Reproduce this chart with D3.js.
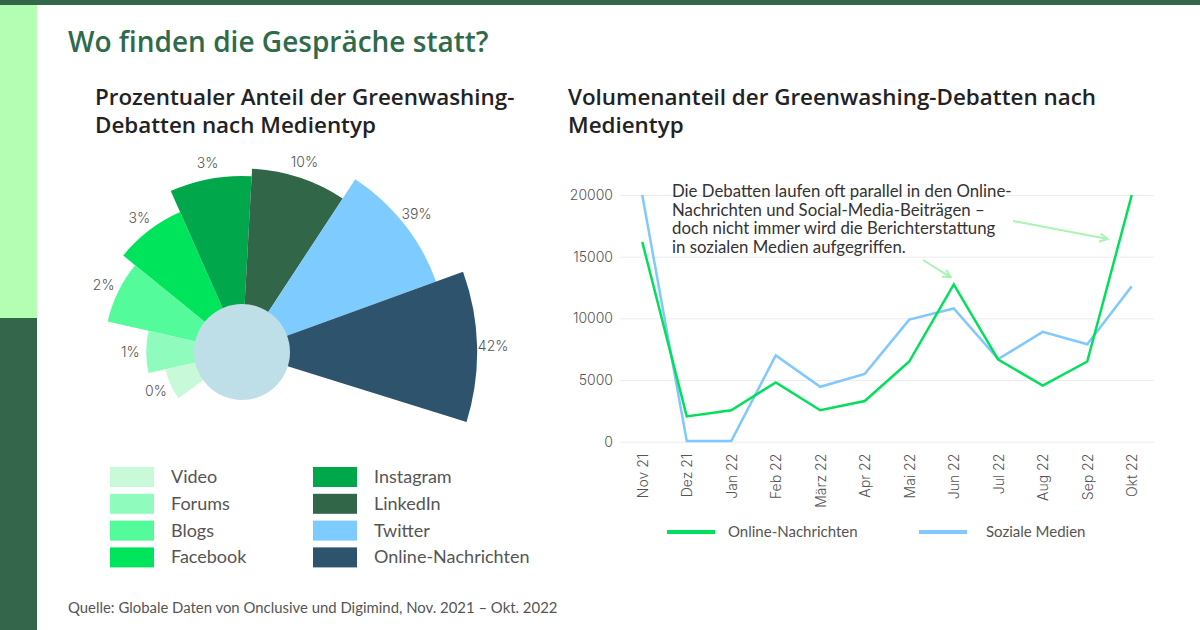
<!DOCTYPE html>
<html lang="de">
<head>
<meta charset="utf-8">
<title>Wo finden die Gespräche statt?</title>
<script src="https://cdn.jsdelivr.net/npm/d3@7"></script>
<style>
    body { margin: 0; background: #fff; }
    svg { display: block; font-family: "Open Sans", "Noto Sans", sans-serif; }
    .title { font-size: 28px; font-weight: 600; fill: #2f6a4a; }
    .subtitle { font-size: 22.4px; font-weight: 600; fill: #222; }
    .petal-label { font-family: Inter, "Noto Sans", sans-serif; font-weight: 300; font-size: 14px; fill: #555; }
    .legend-label { font-family: Lato, sans-serif; font-size: 18px; fill: #555; }
    .axis text { font-family: Inter, sans-serif; font-weight: 300; font-size: 14px; fill: #555; }
    .axis .tick line { stroke: #ececec; }
    .axis .domain { display: none; }
    .note { font-family: Lato, sans-serif; font-size: 16.8px; fill: #333; }
    .source { font-family: Lato, sans-serif; font-size: 14.9px; fill: #555; }
</style>
</head>
<body>
<div id="chart"></div>
<script>
// pie (rose) data: share in percent, radial reach index 0-100
const mediaTypes = ["Video", "Forums", "Blogs", "Facebook", "Instagram", "LinkedIn", "Twitter", "Online-Nachrichten"];
const mediaShare = [0, 1, 2, 3, 3, 10, 39, 42];
const mediaReach = [16, 25, 47, 55, 67, 71, 83, 98];
const mediaColors = ["#c8f9d9", "#8ffbbd", "#53fb9b", "#00e45b", "#00a84b", "#316648", "#7ecbff", "#2e536c"];

// line chart data
const months = ["Nov 21", "Dez 21", "Jan 22", "Feb 22", "März 22", "Apr 22", "Mai 22", "Jun 22", "Jul 22", "Aug 22", "Sep 22", "Okt 22"];
const onlineNews = [16200, 2050, 2550, 4800, 2550, 3300, 6500, 12750, 6650, 4550, 6500, 20000];
const socialMedia = [20000, 50, 50, 7000, 4450, 5500, 9900, 10800, 6700, 8900, 7900, 12600];
const volumeTicks = [0, 5000, 10000, 15000, 20000];
const seriesNames = ["Online-Nachrichten", "Soziale Medien"];
const seriesColors = ["#00e05a", "#80c8ff"];

const noteLines = [
    "Die Debatten laufen oft parallel in den Online-",
    "Nachrichten und Social-Media-Beiträgen –",
    "doch nicht immer wird die Berichterstattung",
    "in sozialen Medien aufgegriffen."
];

const width = 1200, height = 630;
const deg = Math.PI / 180;

let svg = d3.select("#chart").append("svg")
    .attr("width", width)
    .attr("height", height);

//---FRAME-------------------------------------------------------------------
svg.append("rect").attr("x", 0).attr("y", 0).attr("width", width).attr("height", 5).attr("fill", "#33664a");
svg.append("rect").attr("x", 0).attr("y", 5).attr("width", 37).attr("height", 313).attr("fill", "#b3feb2");
svg.append("rect").attr("x", 0).attr("y", 318).attr("width", 37).attr("height", 312).attr("fill", "#33664a");

svg.append("text").attr("class", "title").attr("x", 68).attr("y", 52).text("Wo finden die Gespräche statt?");

let subLeft = svg.append("text").attr("class", "subtitle").attr("x", 95).attr("y", 105);
subLeft.append("tspan").attr("x", 95).text("Prozentualer Anteil der Greenwashing-");
subLeft.append("tspan").attr("x", 95).attr("dy", 28).text("Debatten nach Medientyp");

let subRight = svg.append("text").attr("class", "subtitle").attr("x", 568).attr("y", 105);
subRight.append("tspan").attr("x", 568).text("Volumenanteil der Greenwashing-Debatten nach");
subRight.append("tspan").attr("x", 568).attr("dy", 28).text("Medientyp");

svg.append("text").attr("class", "source").attr("x", 68).attr("y", 613)
    .text("Quelle: Globale Daten von Onclusive und Digimind, Nov. 2021 – Okt. 2022");

//---ROSE CHART--------------------------------------------------------------
let roseData = mediaTypes.map((m, i) => ({name: m, share: mediaShare[i], reach: mediaReach[i], color: mediaColors[i]}));

let radius = d3.scaleLinear().domain([0, 100]).range([48, 239]);
let angleWeight = d3.scaleSqrt().domain([0, 42]).range([25, 40]);

let pie = d3.pie()
    .sort(null)
    .value(d => angleWeight(d.share))
    .startAngle(-126 * deg)
    .endAngle(107.3 * deg);

let arc = d3.arc()
    .innerRadius(0)
    .outerRadius(d => radius(d.data.reach));

let rose = svg.append("g").attr("transform", "translate(242,352)");

rose.selectAll(".petal")
    .data(pie(roseData))
    .enter().append("path")
    .attr("class", "petal")
    .attr("d", arc)
    .attr("fill", d => d.data.color);

rose.append("circle").attr("r", 48).attr("fill", "#bedfe8");

rose.selectAll(".petal-label")
    .data(pie(roseData))
    .enter().append("text")
    .attr("class", "petal-label")
    .attr("text-anchor", "middle")
    .attr("dy", "0.35em")
    .attr("x", d => Math.sin((d.startAngle + d.endAngle) / 2) * (radius(d.data.reach) + 16))
    .attr("y", d => -Math.cos((d.startAngle + d.endAngle) / 2) * (radius(d.data.reach) + 16))
    .text(d => d.data.share + "%");

// legend, two columns of four
let legend = svg.append("g").selectAll(".legend-item")
    .data(roseData)
    .enter().append("g")
    .attr("class", "legend-item")
    .attr("transform", (d, i) => "translate(" + (i < 4 ? 110 : 313) + "," + (467 + (i % 4) * 26.8) + ")");

legend.append("rect").attr("width", 44).attr("height", 20).attr("fill", d => d.color);
legend.append("text").attr("class", "legend-label").attr("x", 61).attr("y", 16).text(d => d.name);

//---LINE CHART--------------------------------------------------------------
let x = d3.scalePoint().domain(months).range([620, 1154]).padding(0.5);
let y = d3.scaleLinear().domain([0, 20000]).range([441.7, 195]);

svg.append("g")
    .attr("class", "axis")
    .attr("transform", "translate(620,0)")
    .call(d3.axisLeft(y).tickValues(volumeTicks).tickSize(-534).tickPadding(7).tickFormat(d3.format("d")));

let xAx = svg.append("g")
    .attr("class", "axis")
    .attr("transform", "translate(0,441.7)")
    .call(d3.axisBottom(x).tickSize(0));

xAx.selectAll("text")
    .attr("transform", "rotate(-90)")
    .attr("text-anchor", "end")
    .attr("x", -12)
    .attr("y", 0)
    .attr("dy", "0.35em");

let series = [socialMedia, onlineNews];
let seriesColor = [seriesColors[1], seriesColors[0]];

let lineGenerator = d3.line()
    .x((d, i) => x(months[i]))
    .y(d => y(d));

svg.selectAll(".volume-line")
    .data(series)
    .enter().append("path")
    .attr("class", "volume-line")
    .attr("d", lineGenerator)
    .attr("fill", "none")
    .attr("stroke", (d, i) => seriesColor[i])
    .attr("stroke-width", 2.5)
    .attr("stroke-linejoin", "miter");

//---ANNOTATION--------------------------------------------------------------
let note = svg.append("text").attr("class", "note").attr("x", 672).attr("y", 197);
note.selectAll("tspan")
    .data(noteLines)
    .enter().append("tspan")
    .attr("x", 672)
    .attr("dy", (d, i) => i === 0 ? 0 : 18.7)
    .text(d => d);

svg.append("defs").append("marker")
    .attr("id", "arrowhead")
    .attr("viewBox", "0 0 10 10")
    .attr("refX", 9).attr("refY", 5)
    .attr("markerWidth", 10).attr("markerHeight", 10)
    .attr("markerUnits", "userSpaceOnUse")
    .attr("orient", "auto")
    .append("path")
    .attr("d", "M1,1 L9,5 L1,9")
    .attr("fill", "none")
    .attr("stroke", "#a6f5b2")
    .attr("stroke-width", 2);

let junX = x("Jun 22"), junY = y(onlineNews[7]);
let oktX = x("Okt 22"), oktY = y(onlineNews[11]);

svg.append("line")
    .attr("x1", 1013).attr("y1", 221)
    .attr("x2", oktX - 24).attr("y2", oktY + 44)
    .attr("stroke", "#a6f5b2").attr("stroke-width", 2)
    .attr("marker-end", "url(#arrowhead)");

svg.append("line")
    .attr("x1", 923).attr("y1", 260)
    .attr("x2", junX - 3).attr("y2", junY - 7)
    .attr("stroke", "#a6f5b2").attr("stroke-width", 2)
    .attr("marker-end", "url(#arrowhead)");

// legend for lines
let lineLegend = svg.append("g").selectAll(".line-legend")
    .data(seriesNames)
    .enter().append("g")
    .attr("class", "line-legend")
    .attr("transform", (d, i) => "translate(" + (667 + i * 252) + ",532)");

lineLegend.append("line")
    .attr("x1", 0).attr("x2", 48)
    .attr("stroke", (d, i) => seriesColors[i])
    .attr("stroke-width", 4);

lineLegend.append("text")
    .attr("class", "legend-label")
    .style("font-size", "15px")
    .attr("x", (d, i) => 61 + i * 6).attr("y", 5)
    .text(d => d);
</script>
</body>
</html>
